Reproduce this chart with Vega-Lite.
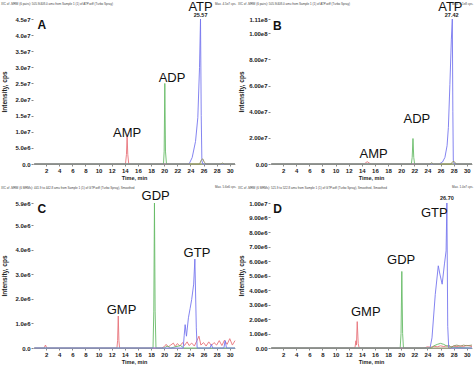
{
  "$schema": "https://vega.github.io/schema/vega-lite/v6.json",
  "padding": {"left": 1, "top": 0, "right": 0, "bottom": 0},
  "background": "white",
  "columns": 2,
  "bounds": "flush",
  "spacing": {"row": 39, "column": 35},
  "datasets": {
    "trace": [
      {"p":"A","s":"mono","t":0.2,"v":0},{"p":"A","s":"mono","t":14.1,"v":0},{"p":"A","s":"mono","t":14.25,"v":3000000},{"p":"A","s":"mono","t":14.35,"v":8700000},{"p":"A","s":"mono","t":14.45,"v":3000000},{"p":"A","s":"mono","t":14.6,"v":0},{"p":"A","s":"mono","t":30.8,"v":0},
      {"p":"A","s":"di","t":0.2,"v":0},{"p":"A","s":"di","t":19.9,"v":0},{"p":"A","s":"di","t":20.0,"v":4000000},{"p":"A","s":"di","t":20.1,"v":25000000},{"p":"A","s":"di","t":20.2,"v":4000000},{"p":"A","s":"di","t":20.35,"v":0},{"p":"A","s":"di","t":30.8,"v":0},
      {"p":"A","s":"tri","t":0.2,"v":0},{"p":"A","s":"tri","t":23.8,"v":0},{"p":"A","s":"tri","t":24.27,"v":2000000},{"p":"A","s":"tri","t":24.78,"v":7000000},{"p":"A","s":"tri","t":25.13,"v":14400000},{"p":"A","s":"tri","t":25.39,"v":30000000},{"p":"A","s":"tri","t":25.54,"v":45000000},{"p":"A","s":"tri","t":25.65,"v":15000000},{"p":"A","s":"tri","t":25.75,"v":1000000},{"p":"A","s":"tri","t":25.9,"v":0},{"p":"A","s":"tri","t":30.8,"v":0},
      {"p":"A","s":"other","t":0.2,"v":0},{"p":"A","s":"other","t":25.4,"v":0},{"p":"A","s":"other","t":25.65,"v":1200000},{"p":"A","s":"other","t":25.9,"v":1600000},{"p":"A","s":"other","t":26.1,"v":600000},{"p":"A","s":"other","t":26.4,"v":0},{"p":"A","s":"other","t":28.6,"v":0},{"p":"A","s":"other","t":28.9,"v":300000},{"p":"A","s":"other","t":29.2,"v":0},{"p":"A","s":"other","t":30.8,"v":0},

      {"p":"B","s":"mono","t":0.2,"v":0},{"p":"B","s":"mono","t":14.4,"v":0},{"p":"B","s":"mono","t":14.65,"v":1200000},{"p":"B","s":"mono","t":14.85,"v":1700000},{"p":"B","s":"mono","t":15.1,"v":800000},{"p":"B","s":"mono","t":15.4,"v":0},{"p":"B","s":"mono","t":30.8,"v":0},
      {"p":"B","s":"di","t":0.2,"v":0},{"p":"B","s":"di","t":21.55,"v":0},{"p":"B","s":"di","t":21.68,"v":5000000},{"p":"B","s":"di","t":21.8,"v":19500000},{"p":"B","s":"di","t":21.92,"v":5000000},{"p":"B","s":"di","t":22.05,"v":0},{"p":"B","s":"di","t":30.8,"v":0},
      {"p":"B","s":"tri","t":0.2,"v":0},{"p":"B","s":"tri","t":25.8,"v":0},{"p":"B","s":"tri","t":26.3,"v":1500000},{"p":"B","s":"tri","t":26.67,"v":5000000},{"p":"B","s":"tri","t":27.0,"v":14000000},{"p":"B","s":"tri","t":27.2,"v":28000000},{"p":"B","s":"tri","t":27.43,"v":61000000},{"p":"B","s":"tri","t":27.65,"v":95000000},{"p":"B","s":"tri","t":27.8,"v":111000000},{"p":"B","s":"tri","t":27.88,"v":40000000},{"p":"B","s":"tri","t":27.95,"v":3000000},{"p":"B","s":"tri","t":28.1,"v":0},{"p":"B","s":"tri","t":30.8,"v":0},
      {"p":"B","s":"other","t":0.2,"v":0},{"p":"B","s":"other","t":24.4,"v":0},{"p":"B","s":"other","t":24.65,"v":1000000},{"p":"B","s":"other","t":24.9,"v":0},{"p":"B","s":"other","t":27.6,"v":0},{"p":"B","s":"other","t":27.85,"v":1800000},{"p":"B","s":"other","t":28.1,"v":1800000},{"p":"B","s":"other","t":28.4,"v":0},{"p":"B","s":"other","t":30.8,"v":0},

      {"p":"C","s":"mono","t":0.2,"v":0},{"p":"C","s":"mono","t":1.7,"v":0},{"p":"C","s":"mono","t":1.9,"v":120000},{"p":"C","s":"mono","t":2.1,"v":0},{"p":"C","s":"mono","t":12.8,"v":0},{"p":"C","s":"mono","t":12.9,"v":300000},{"p":"C","s":"mono","t":13.0,"v":1300000},{"p":"C","s":"mono","t":13.1,"v":300000},{"p":"C","s":"mono","t":13.2,"v":0},{"p":"C","s":"mono","t":19.6,"v":0},{"p":"C","s":"mono","t":20.0,"v":50000},{"p":"C","s":"mono","t":20.3,"v":150000},{"p":"C","s":"mono","t":20.6,"v":40000},{"p":"C","s":"mono","t":21.0,"v":120000},{"p":"C","s":"mono","t":21.4,"v":200000},{"p":"C","s":"mono","t":21.7,"v":60000},{"p":"C","s":"mono","t":22.0,"v":180000},{"p":"C","s":"mono","t":22.4,"v":80000},{"p":"C","s":"mono","t":22.8,"v":220000},{"p":"C","s":"mono","t":23.1,"v":100000},{"p":"C","s":"mono","t":23.5,"v":250000},{"p":"C","s":"mono","t":23.8,"v":100000},{"p":"C","s":"mono","t":24.2,"v":200000},{"p":"C","s":"mono","t":24.6,"v":80000},{"p":"C","s":"mono","t":25.0,"v":300000},{"p":"C","s":"mono","t":25.3,"v":480000},{"p":"C","s":"mono","t":25.6,"v":120000},{"p":"C","s":"mono","t":26.0,"v":220000},{"p":"C","s":"mono","t":26.4,"v":80000},{"p":"C","s":"mono","t":26.8,"v":250000},{"p":"C","s":"mono","t":27.2,"v":100000},{"p":"C","s":"mono","t":27.6,"v":220000},{"p":"C","s":"mono","t":28.0,"v":120000},{"p":"C","s":"mono","t":28.4,"v":300000},{"p":"C","s":"mono","t":28.8,"v":100000},{"p":"C","s":"mono","t":29.2,"v":320000},{"p":"C","s":"mono","t":29.6,"v":150000},{"p":"C","s":"mono","t":30.0,"v":380000},{"p":"C","s":"mono","t":30.4,"v":120000},{"p":"C","s":"mono","t":30.8,"v":300000},
      {"p":"C","s":"di","t":0.2,"v":0},{"p":"C","s":"di","t":18.3,"v":0},{"p":"C","s":"di","t":18.42,"v":1500000},{"p":"C","s":"di","t":18.52,"v":5900000},{"p":"C","s":"di","t":18.62,"v":1500000},{"p":"C","s":"di","t":18.75,"v":0},{"p":"C","s":"di","t":20.0,"v":0},{"p":"C","s":"di","t":20.5,"v":80000},{"p":"C","s":"di","t":21.0,"v":0},{"p":"C","s":"di","t":22.5,"v":100000},{"p":"C","s":"di","t":23.0,"v":0},{"p":"C","s":"di","t":30.8,"v":0},
      {"p":"C","s":"tri","t":0.2,"v":0},{"p":"C","s":"tri","t":22.9,"v":0},{"p":"C","s":"tri","t":23.05,"v":500000},{"p":"C","s":"tri","t":23.2,"v":950000},{"p":"C","s":"tri","t":23.4,"v":480000},{"p":"C","s":"tri","t":23.7,"v":1230000},{"p":"C","s":"tri","t":23.95,"v":1600000},{"p":"C","s":"tri","t":24.2,"v":1980000},{"p":"C","s":"tri","t":24.5,"v":2600000},{"p":"C","s":"tri","t":24.68,"v":3620000},{"p":"C","s":"tri","t":24.9,"v":820000},{"p":"C","s":"tri","t":25.03,"v":0},{"p":"C","s":"tri","t":27.0,"v":0},{"p":"C","s":"tri","t":27.2,"v":150000},{"p":"C","s":"tri","t":27.4,"v":0},{"p":"C","s":"tri","t":29.1,"v":0},{"p":"C","s":"tri","t":29.3,"v":300000},{"p":"C","s":"tri","t":29.5,"v":0},{"p":"C","s":"tri","t":30.8,"v":0},

      {"p":"D","s":"mono","t":0.2,"v":0},{"p":"D","s":"mono","t":12.95,"v":0},{"p":"D","s":"mono","t":13.1,"v":500000},{"p":"D","s":"mono","t":13.18,"v":200000},{"p":"D","s":"mono","t":13.3,"v":1820000},{"p":"D","s":"mono","t":13.45,"v":300000},{"p":"D","s":"mono","t":13.6,"v":0},{"p":"D","s":"mono","t":23.5,"v":0},{"p":"D","s":"mono","t":24.0,"v":80000},{"p":"D","s":"mono","t":24.5,"v":50000},{"p":"D","s":"mono","t":25.0,"v":120000},{"p":"D","s":"mono","t":25.5,"v":80000},{"p":"D","s":"mono","t":26.0,"v":150000},{"p":"D","s":"mono","t":26.5,"v":100000},{"p":"D","s":"mono","t":27.0,"v":150000},{"p":"D","s":"mono","t":27.5,"v":80000},{"p":"D","s":"mono","t":28.0,"v":120000},{"p":"D","s":"mono","t":28.5,"v":100000},{"p":"D","s":"mono","t":29.0,"v":150000},{"p":"D","s":"mono","t":29.5,"v":100000},{"p":"D","s":"mono","t":30.0,"v":180000},{"p":"D","s":"mono","t":30.8,"v":100000},
      {"p":"D","s":"di","t":0.2,"v":0},{"p":"D","s":"di","t":19.85,"v":0},{"p":"D","s":"di","t":19.98,"v":1000000},{"p":"D","s":"di","t":20.1,"v":5280000},{"p":"D","s":"di","t":20.22,"v":1000000},{"p":"D","s":"di","t":20.35,"v":0},{"p":"D","s":"di","t":24.6,"v":0},{"p":"D","s":"di","t":25.0,"v":150000},{"p":"D","s":"di","t":25.5,"v":250000},{"p":"D","s":"di","t":26.0,"v":320000},{"p":"D","s":"di","t":26.5,"v":250000},{"p":"D","s":"di","t":27.0,"v":120000},{"p":"D","s":"di","t":27.3,"v":200000},{"p":"D","s":"di","t":27.6,"v":50000},{"p":"D","s":"di","t":30.8,"v":0},
      {"p":"D","s":"tri","t":0.2,"v":0},{"p":"D","s":"tri","t":24.4,"v":0},{"p":"D","s":"tri","t":24.7,"v":700000},{"p":"D","s":"tri","t":25.2,"v":3700000},{"p":"D","s":"tri","t":25.66,"v":5670000},{"p":"D","s":"tri","t":25.9,"v":5100000},{"p":"D","s":"tri","t":26.25,"v":4400000},{"p":"D","s":"tri","t":26.6,"v":5800000},{"p":"D","s":"tri","t":26.85,"v":6700000},{"p":"D","s":"tri","t":26.97,"v":10000000},{"p":"D","s":"tri","t":27.1,"v":1500000},{"p":"D","s":"tri","t":27.25,"v":0},{"p":"D","s":"tri","t":30.8,"v":0},
      {"p":"D","s":"other","t":0.2,"v":0},{"p":"D","s":"other","t":27.5,"v":0},{"p":"D","s":"other","t":28.0,"v":150000},{"p":"D","s":"other","t":28.5,"v":200000},{"p":"D","s":"other","t":29.0,"v":120000},{"p":"D","s":"other","t":29.5,"v":200000},{"p":"D","s":"other","t":30.0,"v":150000},{"p":"D","s":"other","t":30.8,"v":200000}
    ],
    "lab": [
      {"p":"A","k":"name","label":"AMP","t":14.35,"v":9720000},
      {"p":"A","k":"name","label":"ADP","t":21.2,"v":26800000},
      {"p":"A","k":"name","label":"ATP","t":25.55,"v":48800000},
      {"p":"A","k":"rt","label":"25.57","t":25.55,"v":46300000},
      {"p":"A","k":"letter","label":"A","t":1.36,"v":43200000},
      {"p":"A","k":"max","label":"Max. 4.5e7 cps.","t":31.0,"v":49700000},
      {"p":"B","k":"name","label":"AMP","t":15.8,"v":7660000},
      {"p":"B","k":"name","label":"ADP","t":22.4,"v":34500000},
      {"p":"B","k":"name","label":"ATP","t":27.5,"v":119900000},
      {"p":"B","k":"rt","label":"27.42","t":27.7,"v":113800000},
      {"p":"B","k":"letter","label":"B","t":1.1,"v":105900000},
      {"p":"B","k":"max","label":"Max. 1.1e8 cps.","t":31.0,"v":122700000},
      {"p":"C","k":"name","label":"GMP","t":13.5,"v":1530000},
      {"p":"C","k":"name","label":"GDP","t":18.7,"v":6170000},
      {"p":"C","k":"name","label":"GTP","t":25.0,"v":3850000},
      {"p":"C","k":"letter","label":"C","t":1.36,"v":5670000},
      {"p":"C","k":"max","label":"Max. 5.6e6 cps.","t":31.0,"v":6570000},
      {"p":"D","k":"name","label":"GMP","t":14.6,"v":2450000},
      {"p":"D","k":"name","label":"GDP","t":20.0,"v":6060000},
      {"p":"D","k":"name","label":"GTP","t":25.05,"v":9290000},
      {"p":"D","k":"rt","label":"26.70","t":26.97,"v":10350000},
      {"p":"D","k":"letter","label":"D","t":1.14,"v":9580000},
      {"p":"D","k":"max","label":"Max. 1.0e7 cps.","t":31.0,"v":11100000}
    ]
  },
  "concat": [
    {
      "width": 202, "height": 145,
      "title": {"text": "XIC of -MRM (6 pairs): 505.9/408.0 amu from Sample 1 (1) of ATP.wiff (Turbo Spray)", "offset": -4.5},
      "layer": [
        {"data": {"name": "trace"}, "transform": [{"filter": "datum.p=='A'"}],
         "mark": {"type": "line", "strokeWidth": 0.9},
         "encoding": {
           "x": {"field": "t", "type": "quantitative", "scale": {"domain": [0, 30.8], "nice": false}, "axis": {"title": "Time, min", "tickCount": 40, "labelOverlap": false, "values": [2,4,6,8,10,12,14,16,18,20,22,24,26,28,30]}},
           "y": {"field": "v", "type": "quantitative", "scale": {"domain": [0, 45000000], "nice": false}, "axis": {"title": "Intensity, cps", "tickCount": 40, "labelOverlap": false, "values": [0,5000000,10000000,15000000,20000000,25000000,30000000,35000000,40000000,45000000], "labelExpr": "datum.value == 0 ? '0.0' : replace(format(datum.value, '.1e'), '+', '')"}},
           "color": {"field": "s", "type": "nominal", "scale": {"domain": ["mono","di","tri","other"], "range": ["#e8737b","#66bb66","#7676ee","#8f8f5f"]}, "legend": null}
         }},
        {"data": {"name": "lab"}, "transform": [{"filter": "datum.p=='A' && datum.k=='name'"}],
         "mark": {"type": "text", "fontSize": 13, "font": "Liberation Sans", "color": "#111"},
         "encoding": {"x": {"field": "t", "type": "quantitative", "scale": {"domain": [0, 30.8], "nice": false}}, "y": {"field": "v", "type": "quantitative", "scale": {"domain": [0, 45000000], "nice": false}}, "text": {"field": "label"}}},
        {"data": {"name": "lab"}, "transform": [{"filter": "datum.p=='A' && datum.k=='letter'"}],
         "mark": {"type": "text", "fontSize": 12, "fontWeight": "bold", "font": "Liberation Sans", "color": "#111"},
         "encoding": {"x": {"field": "t", "type": "quantitative", "scale": {"domain": [0, 30.8], "nice": false}}, "y": {"field": "v", "type": "quantitative", "scale": {"domain": [0, 45000000], "nice": false}}, "text": {"field": "label"}}},
        {"data": {"name": "lab"}, "transform": [{"filter": "datum.p=='A' && datum.k=='rt'"}],
         "mark": {"type": "text", "fontSize": 5.5, "fontWeight": "bold", "font": "Liberation Sans", "color": "#222"},
         "encoding": {"x": {"field": "t", "type": "quantitative", "scale": {"domain": [0, 30.8], "nice": false}}, "y": {"field": "v", "type": "quantitative", "scale": {"domain": [0, 45000000], "nice": false}}, "text": {"field": "label"}}},
        {"data": {"name": "lab"}, "transform": [{"filter": "datum.p=='A' && datum.k=='max'"}],
         "mark": {"type": "text", "fontSize": 3, "align": "right", "font": "Liberation Sans", "color": "#444"},
         "encoding": {"x": {"field": "t", "type": "quantitative", "scale": {"domain": [0, 30.8], "nice": false}}, "y": {"field": "v", "type": "quantitative", "scale": {"domain": [0, 45000000], "nice": false}}, "text": {"field": "label"}}}
      ]
    },
    {
      "width": 202, "height": 145,
      "title": {"text": "XIC of -MRM (6 pairs): 505.9/408.0 amu from Sample 1 (1) of ATP.wiff (Turbo Spray)", "offset": -4},
      "layer": [
        {"data": {"name": "trace"}, "transform": [{"filter": "datum.p=='B'"}],
         "mark": {"type": "line", "strokeWidth": 0.9},
         "encoding": {
           "x": {"field": "t", "type": "quantitative", "scale": {"domain": [0, 30.8], "nice": false}, "axis": {"title": "Time, min", "tickCount": 40, "labelOverlap": false, "values": [2,4,6,8,10,12,14,16,18,20,22,24,26,28,30]}},
           "y": {"field": "v", "type": "quantitative", "scale": {"domain": [0, 111000000], "nice": false}, "axis": {"title": "Intensity, cps", "tickCount": 40, "labelOverlap": false, "values": [0,20000000,40000000,60000000,80000000,100000000,111000000], "labelExpr": "datum.value == 0 ? '0.00' : replace(format(datum.value, '.2e'), '+', '')"}},
           "color": {"field": "s", "type": "nominal", "scale": {"domain": ["mono","di","tri","other"], "range": ["#e8737b","#66bb66","#7676ee","#8f8f5f"]}, "legend": null}
         }},
        {"data": {"name": "lab"}, "transform": [{"filter": "datum.p=='B' && datum.k=='name'"}],
         "mark": {"type": "text", "fontSize": 13, "font": "Liberation Sans", "color": "#111"},
         "encoding": {"x": {"field": "t", "type": "quantitative", "scale": {"domain": [0, 30.8], "nice": false}}, "y": {"field": "v", "type": "quantitative", "scale": {"domain": [0, 111000000], "nice": false}}, "text": {"field": "label"}}},
        {"data": {"name": "lab"}, "transform": [{"filter": "datum.p=='B' && datum.k=='letter'"}],
         "mark": {"type": "text", "fontSize": 12, "fontWeight": "bold", "font": "Liberation Sans", "color": "#111"},
         "encoding": {"x": {"field": "t", "type": "quantitative", "scale": {"domain": [0, 30.8], "nice": false}}, "y": {"field": "v", "type": "quantitative", "scale": {"domain": [0, 111000000], "nice": false}}, "text": {"field": "label"}}},
        {"data": {"name": "lab"}, "transform": [{"filter": "datum.p=='B' && datum.k=='rt'"}],
         "mark": {"type": "text", "fontSize": 5.5, "fontWeight": "bold", "font": "Liberation Sans", "color": "#222"},
         "encoding": {"x": {"field": "t", "type": "quantitative", "scale": {"domain": [0, 30.8], "nice": false}}, "y": {"field": "v", "type": "quantitative", "scale": {"domain": [0, 111000000], "nice": false}}, "text": {"field": "label"}}},
        {"data": {"name": "lab"}, "transform": [{"filter": "datum.p=='B' && datum.k=='max'"}],
         "mark": {"type": "text", "fontSize": 3, "align": "right", "font": "Liberation Sans", "color": "#444"},
         "encoding": {"x": {"field": "t", "type": "quantitative", "scale": {"domain": [0, 30.8], "nice": false}}, "y": {"field": "v", "type": "quantitative", "scale": {"domain": [0, 111000000], "nice": false}}, "text": {"field": "label"}}}
      ]
    },
    {
      "width": 202, "height": 145,
      "title": {"text": "XIC of -MRM (6 MRMs): 441.9 to 442.8 amu from Sample 1 (1) of GTP.wiff (Turbo Spray), Smoothed", "offset": -3.8},
      "layer": [
        {"data": {"name": "trace"}, "transform": [{"filter": "datum.p=='C'"}],
         "mark": {"type": "line", "strokeWidth": 0.9},
         "encoding": {
           "x": {"field": "t", "type": "quantitative", "scale": {"domain": [0, 30.8], "nice": false}, "axis": {"title": "Time, min", "tickCount": 40, "labelOverlap": false, "values": [2,4,6,8,10,12,14,16,18,20,22,24,26,28,30]}},
           "y": {"field": "v", "type": "quantitative", "scale": {"domain": [0, 5900000], "nice": false}, "axis": {"title": "Intensity, cps", "tickCount": 40, "labelOverlap": false, "values": [0,1000000,2000000,3000000,4000000,5000000,5900000], "labelExpr": "datum.value == 0 ? '0.0' : replace(format(datum.value, '.1e'), '+', '')"}},
           "color": {"field": "s", "type": "nominal", "scale": {"domain": ["mono","di","tri","other"], "range": ["#e8737b","#66bb66","#7676ee","#8f8f5f"]}, "legend": null}
         }},
        {"data": {"name": "lab"}, "transform": [{"filter": "datum.p=='C' && datum.k=='name'"}],
         "mark": {"type": "text", "fontSize": 13, "font": "Liberation Sans", "color": "#111"},
         "encoding": {"x": {"field": "t", "type": "quantitative", "scale": {"domain": [0, 30.8], "nice": false}}, "y": {"field": "v", "type": "quantitative", "scale": {"domain": [0, 5900000], "nice": false}}, "text": {"field": "label"}}},
        {"data": {"name": "lab"}, "transform": [{"filter": "datum.p=='C' && datum.k=='letter'"}],
         "mark": {"type": "text", "fontSize": 12, "fontWeight": "bold", "font": "Liberation Sans", "color": "#111"},
         "encoding": {"x": {"field": "t", "type": "quantitative", "scale": {"domain": [0, 30.8], "nice": false}}, "y": {"field": "v", "type": "quantitative", "scale": {"domain": [0, 5900000], "nice": false}}, "text": {"field": "label"}}},
        {"data": {"name": "lab"}, "transform": [{"filter": "datum.p=='C' && datum.k=='max'"}],
         "mark": {"type": "text", "fontSize": 3, "align": "right", "font": "Liberation Sans", "color": "#444"},
         "encoding": {"x": {"field": "t", "type": "quantitative", "scale": {"domain": [0, 30.8], "nice": false}}, "y": {"field": "v", "type": "quantitative", "scale": {"domain": [0, 5900000], "nice": false}}, "text": {"field": "label"}}}
      ]
    },
    {
      "width": 202, "height": 145,
      "title": {"text": "XIC of -MRM (6 MRMs): 521.9 to 522.8 amu from Sample 1 (1) of GTP.wiff (Turbo Spray), Smoothed, Smoothed", "offset": -3.4},
      "layer": [
        {"data": {"name": "trace"}, "transform": [{"filter": "datum.p=='D'"}],
         "mark": {"type": "line", "strokeWidth": 0.9},
         "encoding": {
           "x": {"field": "t", "type": "quantitative", "scale": {"domain": [0, 30.8], "nice": false}, "axis": {"title": "Time, min", "tickCount": 40, "labelOverlap": false, "values": [2,4,6,8,10,12,14,16,18,20,22,24,26,28,30]}},
           "y": {"field": "v", "type": "quantitative", "scale": {"domain": [0, 10000000], "nice": false}, "axis": {"title": "Intensity, cps", "tickCount": 40, "labelOverlap": false, "values": [0,1000000,2000000,3000000,4000000,5000000,6000000,7000000,8000000,9000000,10000000], "labelExpr": "datum.value == 0 ? '0.00' : replace(format(datum.value, '.2e'), '+', '')"}},
           "color": {"field": "s", "type": "nominal", "scale": {"domain": ["mono","di","tri","other"], "range": ["#e8737b","#66bb66","#7676ee","#8f8f5f"]}, "legend": null}
         }},
        {"data": {"name": "lab"}, "transform": [{"filter": "datum.p=='D' && datum.k=='name'"}],
         "mark": {"type": "text", "fontSize": 13, "font": "Liberation Sans", "color": "#111"},
         "encoding": {"x": {"field": "t", "type": "quantitative", "scale": {"domain": [0, 30.8], "nice": false}}, "y": {"field": "v", "type": "quantitative", "scale": {"domain": [0, 10000000], "nice": false}}, "text": {"field": "label"}}},
        {"data": {"name": "lab"}, "transform": [{"filter": "datum.p=='D' && datum.k=='letter'"}],
         "mark": {"type": "text", "fontSize": 12, "fontWeight": "bold", "font": "Liberation Sans", "color": "#111"},
         "encoding": {"x": {"field": "t", "type": "quantitative", "scale": {"domain": [0, 30.8], "nice": false}}, "y": {"field": "v", "type": "quantitative", "scale": {"domain": [0, 10000000], "nice": false}}, "text": {"field": "label"}}},
        {"data": {"name": "lab"}, "transform": [{"filter": "datum.p=='D' && datum.k=='rt'"}],
         "mark": {"type": "text", "fontSize": 5.5, "fontWeight": "bold", "font": "Liberation Sans", "color": "#222"},
         "encoding": {"x": {"field": "t", "type": "quantitative", "scale": {"domain": [0, 30.8], "nice": false}}, "y": {"field": "v", "type": "quantitative", "scale": {"domain": [0, 10000000], "nice": false}}, "text": {"field": "label"}}},
        {"data": {"name": "lab"}, "transform": [{"filter": "datum.p=='D' && datum.k=='max'"}],
         "mark": {"type": "text", "fontSize": 3, "align": "right", "font": "Liberation Sans", "color": "#444"},
         "encoding": {"x": {"field": "t", "type": "quantitative", "scale": {"domain": [0, 30.8], "nice": false}}, "y": {"field": "v", "type": "quantitative", "scale": {"domain": [0, 10000000], "nice": false}}, "text": {"field": "label"}}}
      ]
    }
  ],
  "config": {
    "view": {"stroke": null},
    "font": "Liberation Sans",
    "title": {"fontSize": 3, "fontWeight": "normal", "color": "#444", "anchor": "start", "frame": "bounds", "font": "Liberation Sans"},
    "axis": {"labelFont": "Liberation Sans", "labelFontWeight": "bold", "labelFontSize": 6, "labelColor": "#222", "titleFont": "Liberation Sans", "titleFontWeight": "bold", "titleColor": "#222", "grid": false, "tickColor": "#888", "tickSize": 2, "domainColor": "#aaa", "labelPadding": 1, "labelOverlap": false, "labelFlush": false},
    "axisX": {"titleFontSize": 5.5, "titlePadding": 2, "domain": true},
    "axisY": {"titleFontSize": 6.5, "titlePadding": 2, "domain": false, "minExtent": 24, "maxExtent": 24}
  }
}
